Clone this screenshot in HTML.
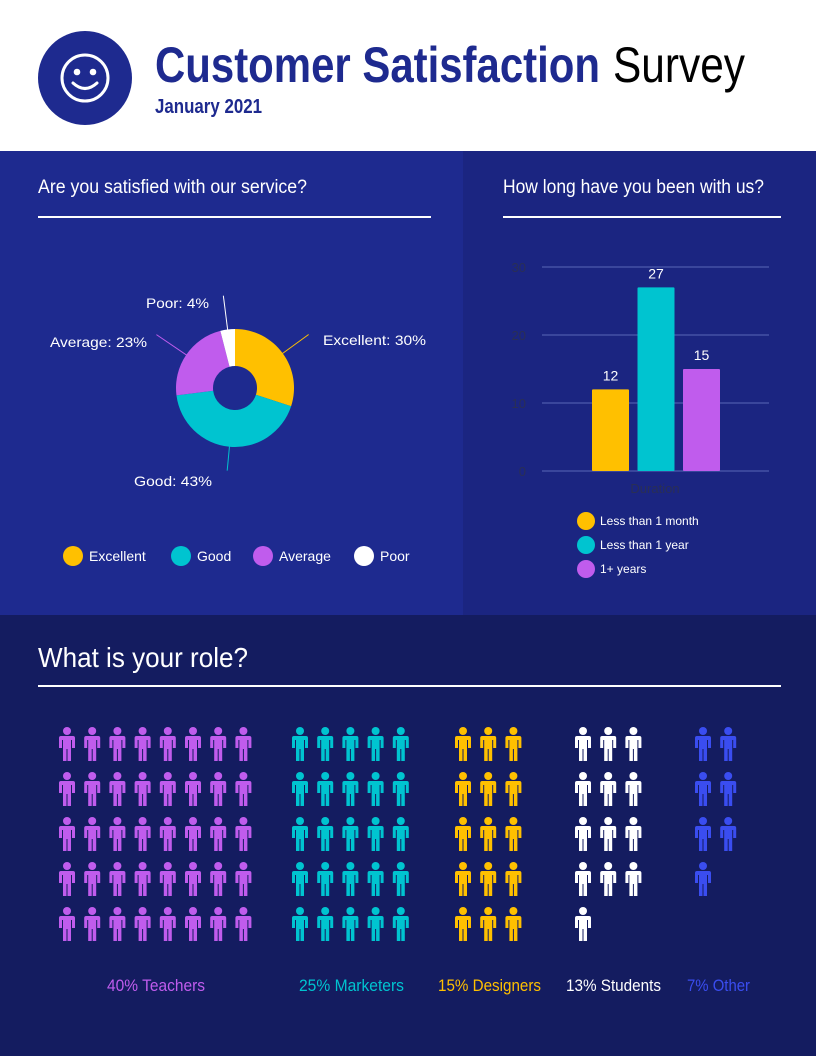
<!DOCTYPE html>
<html><head><meta charset="utf-8"><style>
html,body{margin:0;padding:0;background:#fff}
svg{display:block}
text{font-family:"Liberation Sans Narrow","Liberation Sans",sans-serif}
.s{font-family:"Liberation Sans",sans-serif}
</style></head><body>
<svg id="root" width="816" height="1056" viewBox="0 0 816 1056" xmlns="http://www.w3.org/2000/svg">
<rect x="0" y="0" width="816" height="151" fill="#fff"/>
<g>
<circle cx="85" cy="78" r="47" fill="#1e2a8f"/>
<circle cx="85" cy="78" r="23" fill="none" stroke="#fff" stroke-width="3"/>
<circle cx="77" cy="72" r="3.3" fill="#fff"/><circle cx="93" cy="72" r="3.3" fill="#fff"/>
<path d="M73 83 Q85 94 97 83" fill="none" stroke="#fff" stroke-width="3" stroke-linecap="round"/>
</g>
<text x="155" y="82" font-size="50" font-weight="bold" fill="#1e2a8f" textLength="445" lengthAdjust="spacingAndGlyphs">Customer Satisfaction</text>
<text x="613" y="82" font-size="50" fill="#000" textLength="132" lengthAdjust="spacingAndGlyphs">Survey</text>
<text x="155" y="113" font-size="20" font-weight="bold" fill="#1e2a8f" textLength="107" lengthAdjust="spacingAndGlyphs">January 2021</text>

<rect x="0" y="151" width="463" height="464" fill="#1e2a8f"/>
<rect x="463" y="151" width="353" height="464" fill="#1b2581"/>
<rect x="0" y="615" width="816" height="441" fill="#141c60"/>

<text x="38" y="193" font-size="19" fill="#fff" textLength="269" lengthAdjust="spacingAndGlyphs">Are you satisfied with our service?</text>
<rect x="38" y="216" width="393" height="2" fill="#fff"/>
<text x="503" y="193" font-size="19" fill="#fff" textLength="261" lengthAdjust="spacingAndGlyphs">How long have you been with us?</text>
<rect x="503" y="216" width="278" height="2" fill="#fff"/>
<text x="38" y="667" font-size="28" fill="#fff" textLength="210" lengthAdjust="spacingAndGlyphs">What is your role?</text>
<rect x="38" y="685" width="743" height="2" fill="#fff"/>

<g id="pie"></g>
<g id="bars"></g>
<g id="people"></g>
</svg>
<script>
const NS="http://www.w3.org/2000/svg";
function mk(tag,attrs,parent,txt){const e=document.createElementNS(NS,tag);for(const k in attrs)e.setAttribute(k,attrs[k]);if(txt!==undefined)e.textContent=txt;parent.appendChild(e);return e;}

// ---- Pie data ----
const pieLabels=["Excellent","Good","Average","Poor"];
const pieValues=[30,43,23,4];
const pieColors=["#ffc000","#00c4d0","#c05ced","#ffffff"];
const pie=document.getElementById('pie');
const cx=235,cy=388,R=59,r0=22;
let tot=pieValues.reduce((a,b)=>a+b,0),acc=0;
const labelPos=[[323,345,103],[134,486,78],[50,347,97],[146,308,63]];
const leadLen=[32,24,36,34];
pieValues.forEach((v,i)=>{
  const a0=acc/tot*2*Math.PI-Math.PI/2; acc+=v; const a1=acc/tot*2*Math.PI-Math.PI/2;
  const lg=(a1-a0)>Math.PI?1:0;
  const p=(a,rr)=>[cx+rr*Math.cos(a),cy+rr*Math.sin(a)];
  const [x0,y0]=p(a0,R),[x1,y1]=p(a1,R),[x2,y2]=p(a1,r0),[x3,y3]=p(a0,r0);
  const s=mk('path',{d:`M${x0} ${y0}A${R} ${R} 0 ${lg} 1 ${x1} ${y1}L${x2} ${y2}A${r0} ${r0} 0 ${lg} 0 ${x3} ${y3}Z`,fill:pieColors[i]},pie);
  
  
  const am=(a0+a1)/2,[lx0,ly0]=p(am,R-12),[lx1,ly1]=p(am,R+leadLen[i]);
  const ln=mk('line',{x1:lx0,y1:ly0,x2:lx1,y2:ly1,stroke:pieColors[i],'stroke-width':1},pie);
  
  
  const lp=labelPos[i];
  const t=mk('text',{x:lp[0],y:lp[1],'font-size':14,fill:'#fff',class:'s',textLength:lp[2],lengthAdjust:'spacingAndGlyphs'},pie,pieLabels[i]+": "+v+"%");
  
  
});
const legX=[73,181,263,364];
pieLabels.forEach((l,i)=>{
  const g=mk('g',{},pie);
  
  
  mk('circle',{cx:legX[i],cy:556,r:10,fill:pieColors[i]},g);
  mk('text',{x:legX[i]+16,y:561,'font-size':14,fill:'#fff',class:'s'},g,l);
});

// ---- Bar data ----
const barLabels=["Less than 1 month","Less than 1 year","1+ years"];
const barValues=[12,27,15];
const barColors=["#ffc000","#00c4d0","#c05ced"];
const yTicks=[0,10,20,30];
const bars=document.getElementById('bars');
const y=v=>471-v*6.8;
yTicks.forEach(t=>{
  const l=mk('line',{x1:542,x2:769,y1:y(t),y2:y(t),stroke:'#5a66b8','stroke-width':1},bars);
  
  
  const tx=mk('text',{x:526,y:y(t)+5,'font-size':13,fill:'#2a2f55','text-anchor':'end',class:'s'},bars,t);
  
  
});
const xl=mk('text',{x:655,y:493,'font-size':13,fill:'#2a2f55','text-anchor':'middle',class:'s'},bars,'Duration');


barValues.forEach((v,i)=>{
  const bx=592+i*45.5;
  const b=mk('rect',{x:bx,y:y(v),width:37,height:471-y(v),fill:barColors[i],rx:1},bars);
  
  
  const t=mk('text',{x:bx+18.5,y:y(v)-9,'font-size':14,fill:'#fff','text-anchor':'middle',class:'s'},bars,v);
  
  
  const g=mk('g',{},bars);
  
  
  mk('circle',{cx:586,cy:521+i*24,r:9,fill:barColors[i]},g);
  mk('text',{x:600,y:525+i*24,'font-size':12,fill:'#fff',class:'s'},g,barLabels[i]);
});

// ---- Pictogram data ----
const roleNames=["Teachers","Marketers","Designers","Students","Other"];
const rolePct=[40,25,15,13,7];
const roleCols=[8,5,3,3,2];
const roleColors=["#c05ced","#00c4d0","#ffc000","#ffffff","#3a4df0"];
const groupX=[67,300,463,583,703];
const labelX=[107,299,438,566,687];
const labelW=[98,105,103,95,63];
const people=document.getElementById('people');
function person(g,x,yy,c){
  mk('circle',{cx:x,cy:yy+4,r:4,fill:c},g);
  mk('path',{d:`M${x-6} ${yy+9}h12q2 0 2 2v10h-3v-8h-1v21h-3.5v-12h-1v12h-3.5v-21h-1v8h-3v-10q0-2 2-2z`,fill:c},g);
}
rolePct.forEach((n,gi)=>{
  const g=mk('g',{},people);
  
  
  for(let k=0;k<n;k++){
    const col=k%roleCols[gi],row=Math.floor(k/roleCols[gi]);
    person(g,groupX[gi]+col*25.2,727+row*45,roleColors[gi]);
  }
  const t=mk('text',{x:labelX[gi],y:991,'font-size':17,fill:roleColors[gi],textLength:labelW[gi],lengthAdjust:'spacingAndGlyphs'},people,n+"% "+roleNames[gi]);
  
  
});
</script>
</body></html>
